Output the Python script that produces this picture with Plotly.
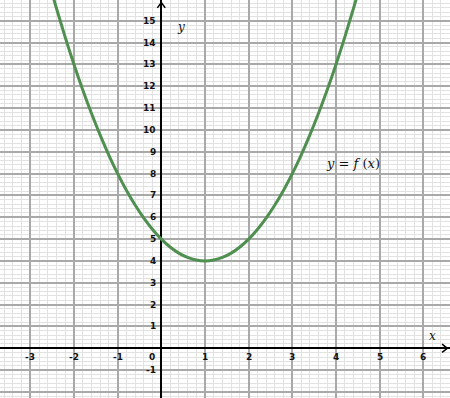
import plotly.graph_objects as go

# Curve samples: y = f(x)
curve_x = [-2.6, -2.4, -2.2, -2.0, -1.8, -1.6, -1.4, -1.2, -1.0, -0.8, -0.6, -0.4, -0.2,
           0.0, 0.2, 0.4, 0.6, 0.8, 1.0, 1.2, 1.4, 1.6, 1.8, 2.0, 2.2, 2.4, 2.6, 2.8,
           3.0, 3.2, 3.4, 3.6, 3.8, 4.0, 4.2, 4.4, 4.6]
curve_y = [16.96, 15.56, 14.24, 13.0, 11.84, 10.76, 9.76, 8.84, 8.0, 7.24, 6.56, 5.96, 5.44,
           5.0, 4.64, 4.36, 4.16, 4.04, 4.0, 4.04, 4.16, 4.36, 4.64, 5.0, 5.44, 5.96, 6.56, 7.24,
           8.0, 8.84, 9.76, 10.76, 11.84, 13.0, 14.24, 15.56, 16.96]

x_ticks = [-3, -2, -1, 1, 2, 3, 4, 5, 6]
y_ticks = [-1, 1, 2, 3, 4, 5, 6, 7, 8, 9, 10, 11, 12, 13, 14, 15]

X_RANGE = [-3.694, 6.611]
Y_RANGE = [-2.276, 15.95]

CURVE_COLOR = "#4f8f4f"
TICK_FONT = dict(family="DejaVu Sans", size=9, color="#111111")
MATH_FONT = dict(family="DejaVu Serif", size=12, color="#111111")

fig = go.Figure()

fig.add_trace(go.Scatter(x=curve_x, y=curve_y, mode="lines",
                         line=dict(color=CURVE_COLOR, width=3, shape="spline"),
                         hoverinfo="skip", showlegend=False))

# axis arrow heads (open chevrons)
xt = 6.55
fig.add_trace(go.Scatter(x=[xt - 0.12, xt, xt - 0.12], y=[0.19, 0, -0.19], mode="lines",
                         line=dict(color="black", width=1.5), hoverinfo="skip", showlegend=False))
yt = 15.83
fig.add_trace(go.Scatter(x=[-0.09, 0, 0.09], y=[yt - 0.24, yt, yt - 0.24], mode="lines",
                         line=dict(color="black", width=1.5), hoverinfo="skip", showlegend=False))

annotations = []
for v in x_ticks:
    annotations.append(dict(x=v, y=0, xref="x", yref="y", text=f"<b>{v}</b>",
                            showarrow=False, font=TICK_FONT, xanchor="center", yanchor="middle",
                            yshift=-9))
annotations.append(dict(x=0, y=0, xref="x", yref="y", text="<b>0</b>", showarrow=False,
                        font=TICK_FONT, xanchor="right", yanchor="middle", xshift=-4, yshift=-9))
for v in y_ticks:
    annotations.append(dict(x=0, y=v, xref="x", yref="y", text=f"<b>{v}</b>", showarrow=False,
                            font=TICK_FONT, xanchor="right", yanchor="middle", xshift=-3))

annotations.append(dict(x=0.46, y=14.7, xref="x", yref="y", text="<i>y</i>", showarrow=False,
                        font=MATH_FONT, xanchor="center", yanchor="middle"))
annotations.append(dict(x=6.2, y=0.55, xref="x", yref="y", text="<i>x</i>", showarrow=False,
                        font=MATH_FONT, xanchor="center", yanchor="middle"))
annotations.append(dict(x=4.4, y=8.45, xref="x", yref="y",
                        text="<i>y</i> = <i>f</i> (<i>x</i>)",
                        showarrow=False, font=dict(family="DejaVu Serif", size=13, color="#111111"),
                        xanchor="center", yanchor="middle"))

axis_common = dict(showticklabels=False, ticks="", showline=False,
                   zeroline=True, zerolinecolor="black", zerolinewidth=2,
                   showgrid=True, gridcolor="#a9a9a9", gridwidth=2, dtick=1, tick0=0,
                   minor=dict(dtick=0.2, showgrid=True, gridcolor="#e2e2e2", gridwidth=1),
                   fixedrange=True)

fig.update_layout(
    width=450, height=398,
    margin=dict(l=0, r=0, t=0, b=0),
    paper_bgcolor="white", plot_bgcolor="white",
    xaxis=dict(range=X_RANGE, **axis_common),
    yaxis=dict(range=Y_RANGE, **axis_common),
    annotations=annotations,
    showlegend=False,
)

fig.write_html("out.html")
